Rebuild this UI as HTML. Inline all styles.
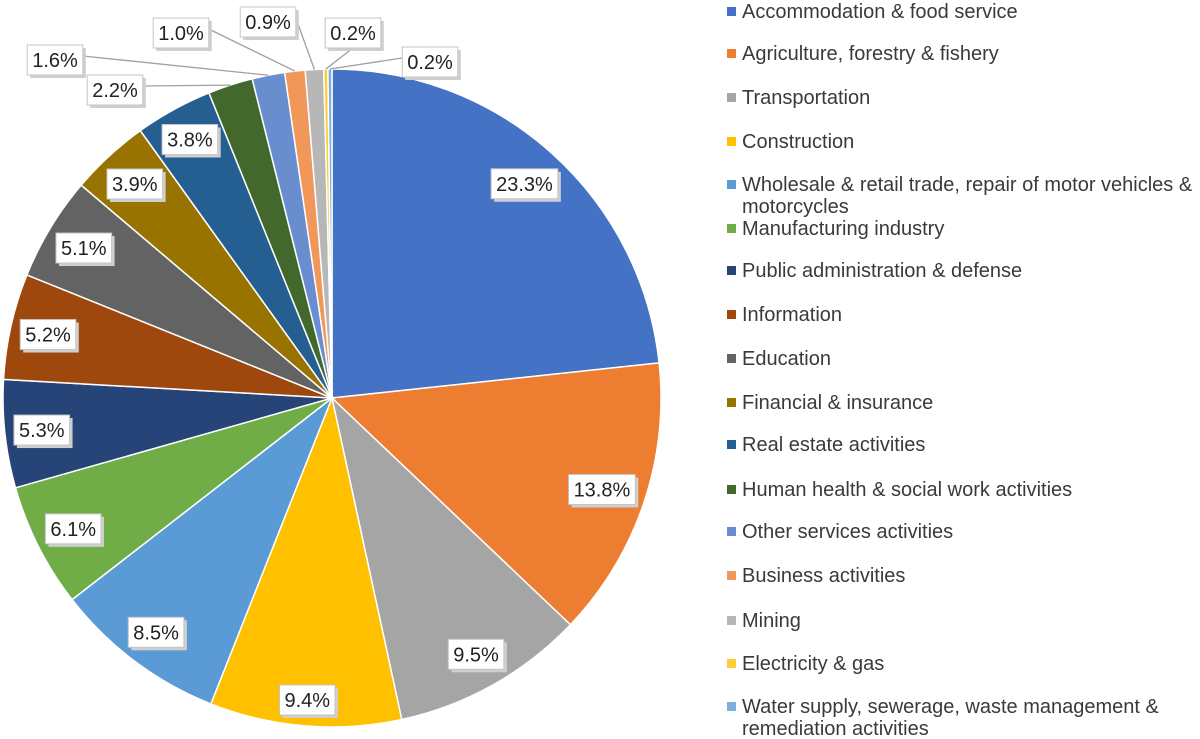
<!DOCTYPE html>
<html><head><meta charset="utf-8"><style>
html,body{margin:0;padding:0;background:#fff;}
svg{display:block;font-family:"Liberation Sans",Arial,sans-serif;}
</style></head><body>
<svg id="chart" width="1200" height="739" viewBox="0 0 1200 739">
<g id="slices"></g>
<g id="leaders"></g>
<g id="labels"></g>
<g id="legend"></g>
</svg>
<script>
const categories = ["Accommodation & food service","Agriculture, forestry & fishery","Transportation","Construction","Wholesale & retail trade, repair of motor vehicles & motorcycles","Manufacturing industry","Public administration & defense","Information","Education","Financial & insurance","Real estate activities","Human health & social work activities","Other services activities","Business activities","Mining","Electricity & gas","Water supply, sewerage, waste management & remediation activities"];
const values = [23.3,13.8,9.5,9.4,8.5,6.1,5.3,5.2,5.1,3.9,3.8,2.2,1.6,1.0,0.9,0.2,0.2];
const valueLabels = ["23.3%","13.8%","9.5%","9.4%","8.5%","6.1%","5.3%","5.2%","5.1%","3.9%","3.8%","2.2%","1.6%","1.0%","0.9%","0.2%","0.2%"];
const colors = ["#4472C4","#ED7D31","#A5A5A5","#FFC000","#5B9BD5","#70AD47","#264478","#9E480E","#636363","#997300","#255E91","#43682B","#698ED0","#F1975A","#B7B7B7","#FFCD33","#7CAFDD"];
const legendLines = [["Accommodation & food service"],["Agriculture, forestry & fishery"],["Transportation"],["Construction"],["Wholesale & retail trade, repair of motor vehicles &","motorcycles"],["Manufacturing industry"],["Public administration & defense"],["Information"],["Education"],["Financial & insurance"],["Real estate activities"],["Human health & social work activities"],["Other services activities"],["Business activities"],["Mining"],["Electricity & gas"],["Water supply, sewerage, waste management &","remediation activities"]];
// layout for outside labels (index -> box center)
const outsideLayout = {11:[115,90],12:[55,60],13:[181,33],14:[268,22],15:[353,33],16:[430,62]};

const NS="http://www.w3.org/2000/svg";
const cx=332, cy=398, r=329;
const BH=30;
const total=values.reduce((a,b)=>a+b,0);
function pt(frac,rad){const a=frac*2*Math.PI;return [cx+rad*Math.sin(a), cy-rad*Math.cos(a)];}
function mk(t,attrs,parent){const e=document.createElementNS(NS,t);for(const k in attrs)e.setAttribute(k,attrs[k]);parent.appendChild(e);return e;}
const gS=document.getElementById('slices'),gL=document.getElementById('labels'),gLd=document.getElementById('leaders'),gG=document.getElementById('legend');
let cum=0;
values.forEach((v,i)=>{
  const f0=cum/total, f1=(cum+v)/total; cum+=v;
  const p0=pt(f0,r),p1=pt(f1,r);
  const large=(f1-f0)>0.5?1:0;
  const p=mk('path',{d:`M${cx},${cy}L${p0[0]},${p0[1]}A${r},${r} 0 ${large} 1 ${p1[0]},${p1[1]}Z`,fill:colors[i],stroke:'#fff','stroke-width':1.5},gS);
  
  
  const fm=(f0+f1)/2;
  const g=mk('g',{},gL);
  
  
  const shadow=mk('rect',{fill:'#cfcfcf'},g);
  const box=mk('rect',{fill:'#fff',stroke:'#c4c4c4','stroke-width':1},g);
  const t=mk('text',{'text-anchor':'middle','font-size':20,fill:'#222'},g);
  t.textContent=valueLabels[i];
  const BW=t.getComputedTextLength()+10;
  let c;
  if(outsideLayout[i]){
    c=outsideLayout[i];
    const e=pt(fm,r);
    let sx=c[0], sy=c[1];
    if(e[0]-c[0]>BW/2+10){sx=c[0]+BW/2; sy=c[1]-4;}
    else if(c[0]-e[0]>BW/2+10){sx=c[0]-BW/2; sy=c[1]-4;}
    else {sy=c[1]+BH/2;}
    const ln=mk('line',{x1:sx,y1:sy,x2:e[0],y2:e[1],stroke:'#a0a0a0','stroke-width':1.3},gLd);
    
    
  } else {
    // push box outward until its farthest corner touches inner margin
    let d=r;
    for(;d>0;d-=1){
      const q=pt(fm,d);
      let ok=true;
      for(const sxx of [-1,1])for(const syy of [-1,1]){
        const dx=q[0]+sxx*BW/2-cx, dy=q[1]+syy*BH/2-cy;
        if(Math.hypot(dx,dy)>r-7) ok=false;
      }
      if(ok)break;
    }
    c=pt(fm,d);
  }
  shadow.setAttribute('x',c[0]-BW/2+3);shadow.setAttribute('y',c[1]-BH/2+3);
  shadow.setAttribute('width',BW);shadow.setAttribute('height',BH);
  box.setAttribute('x',c[0]-BW/2);box.setAttribute('y',c[1]-BH/2);
  box.setAttribute('width',BW);box.setAttribute('height',BH);
  t.setAttribute('x',c[0]);t.setAttribute('y',c[1]+7);
});
const rowY=[11,53,97,141,184,228,270,314,358,402,444,489,531,575,620,663,706];
categories.forEach((c,i)=>{
  const g=mk('g',{},gG);
  
  
  mk('rect',{x:727,y:rowY[i]-4,width:9,height:9,fill:colors[i]},g);
  legendLines[i].forEach((l,j)=>{
    const t=mk('text',{x:742,y:rowY[i]+7+j*22,'font-size':20,fill:'#3a3a3a'},g);
    t.textContent=l;
  });
});
</script>
</body></html>
